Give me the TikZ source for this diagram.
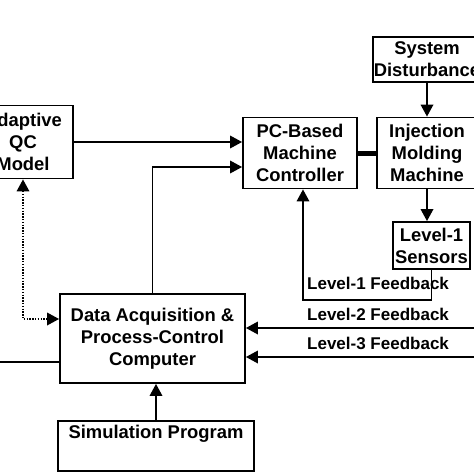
\documentclass[tikz,border=0pt]{standalone}
\usepackage{fontspec}
\setmainfont{Liberation Sans}
\usetikzlibrary{arrows.meta}
\begin{document}
\begin{tikzpicture}[x=1pt,y=-1pt,
  box/.style={draw,line width=1.8pt,align=center,inner sep=0pt,
    font=\fontsize{18.4}{22}\selectfont\bfseries},
  lbl/.style={inner sep=0pt,anchor=west,font=\fontsize{17}{22}\selectfont\bfseries},
  ln/.style={line width=1.8pt},
  arr/.style={line width=1.8pt,-{Triangle[length=12pt,width=12.5pt]}},
  darr/.style={line width=1.8pt,dash pattern=on 1.4pt off 1.4pt,
    {Triangle[length=12pt,width=12.5pt]}-{Triangle[length=12pt,width=12.5pt]}}]
\useasboundingbox (0,0) rectangle (474,474);
\clip (0,0) rectangle (474,474);
\fill[white] (0,0) rectangle (474,474);
\node[box,minimum width=100pt,minimum height=73pt] (QC) at (23,142) {Adaptive\\QC\\Model};
\node[box,minimum width=114pt,minimum height=71pt] (PC) at (300,153) {PC-Based\\Machine\\Controller};
\node[box,minimum width=100pt,minimum height=71pt] (Inj) at (427,153) {Injection\\Molding\\Machine};
\node[box,minimum width=108pt,minimum height=45pt] (Dist) at (427,59.5) {System\\Disturbance};
\node[box,minimum width=77pt,minimum height=47pt] (Sens) at (431.5,245.5) {Level-1\\Sensors};
\node[box,minimum width=185pt,minimum height=89pt] (Data) at (152.5,338.5) {Data Acquisition \&\\Process-Control\\Computer};
\node[box,minimum width=196pt,minimum height=50pt] (Sim) at (156,446) {Simulation Program\\\strut};
\node[lbl] (l1) at (307,283) {Level-1 Feedback};
\node[lbl] (l2) at (307,314) {Level-2 Feedback};
\node[lbl] (l3) at (307,343) {Level-3 Feedback};
\coordinate (r2) at (480,328);
\coordinate (r3) at (480,357);
\coordinate (lft) at (-5,362);
\draw[arr] (QC.east) -- (QC.east -| PC.west);
\draw[arr] (Data.north) |- ([yshift=-14pt]PC.west);
\draw[line width=5pt] (PC.east) -- (Inj.west);
\draw[arr] (Dist.south) -- (Inj.north);
\draw[arr] (Inj.south) -- (Inj.south |- Sens.north);
\draw[arr] (Sens.south) -- ++(0,30) -| ([xshift=3pt]PC.south);
\draw[arr] (r2) -- (r2 -| Data.east);
\draw[arr] (r3) -- (r3 -| Data.east);
\draw[ln] (lft) -- (lft -| Data.west);
\draw[darr] (QC.south) |- ([yshift=19.5pt]Data.west);
\draw[arr] (Sim.north) -- (Sim.north |- Data.south);
\end{tikzpicture}
\end{document}
